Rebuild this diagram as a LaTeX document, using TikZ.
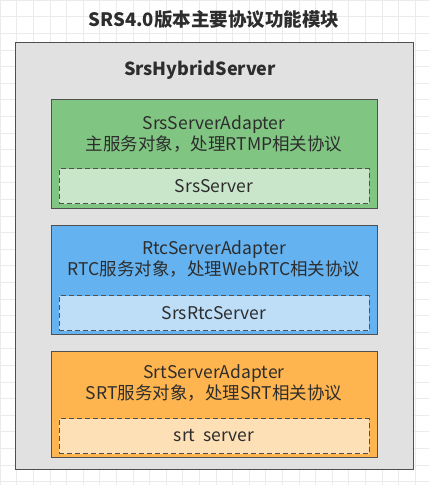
\documentclass[tikz,border=0pt]{standalone}
\usepackage{fontspec}
\setmainfont{Noto Sans CJK SC}
\usetikzlibrary{positioning}

\definecolor{gridgray}{RGB}{235,235,235}
\definecolor{outerfill}{RGB}{225,225,225}
\definecolor{edgegray}{RGB}{80,80,80}
\definecolor{txtgray}{RGB}{45,45,45}
\definecolor{srsgreen}{RGB}{129,197,131}
\definecolor{srsgreenlt}{RGB}{201,230,203}
\definecolor{rtcblue}{RGB}{100,178,240}
\definecolor{rtcbluelt}{RGB}{190,222,248}
\definecolor{srtorange}{RGB}{255,181,79}
\definecolor{srtorangelt}{RGB}{253,224,182}

\begin{document}
\begin{tikzpicture}[x=1pt, y=-1pt,
   adapter/.style={draw=edgegray, line width=1pt, minimum width=326pt, minimum height=109pt, inner sep=0pt},
   inner/.style={draw=edgegray, dash pattern=on 5pt off 3pt, line width=1pt, minimum width=310pt, minimum height=35pt, inner sep=0pt, font=\fontsize{17.5}{19}\selectfont, text=txtgray},
   caption/.style={align=center, font=\fontsize{17.5}{21}\selectfont, text=txtgray, inner sep=0pt}]
   \useasboundingbox (0,0) rectangle (429,485);
   \fill[white] (0,0) rectangle (429,485);
   \draw[gridgray, step=16.6pt] (0,0) grid (429,485);

   \node[font=\bfseries\fontsize{18.5}{20}\selectfont, text=txtgray] (title) at (214,20) {SRS4.0版本主要协议功能模块};

   \node[draw=edgegray, fill=outerfill, line width=1pt, minimum width=398pt, minimum height=427pt, inner sep=0pt] (hybrid) at (214,255.5) {};
   \node[font=\bfseries\fontsize{18}{20}\selectfont, text=txtgray] (hybridlabel) at (200,70) {SrsHybridServer};

   % srs / rtmp
   \node[adapter, fill=srsgreen] (srsadapter) at (214,153.5) {};
   \node[caption] (srstext) at (214,133.5) {SrsServerAdapter\\主服务对象，处理RTMP相关协议};
   \node[inner, fill=srsgreenlt] (srsserver) at (214,186) {SrsServer};

   % rtc / webrtc
   \node[adapter, fill=rtcblue] (rtcadapter) at (214,280) {};
   \node[caption] (rtctext) at (214,258.5) {RtcServerAdapter\\RTC服务对象，处理WebRTC相关协议};
   \node[inner, fill=rtcbluelt] (rtcserver) at (214,313) {SrsRtcServer};

   % srt
   \node[adapter, fill=srtorange, minimum height=106pt] (srtadapter) at (214,404) {};
   \node[caption] (srttext) at (214,382.5) {SrtServerAdapter\\SRT服务对象，处理SRT相关协议};
   \node[inner, fill=srtorangelt] (srtserver) at (214,436) {srt\ \ server};
\end{tikzpicture}
\end{document}
